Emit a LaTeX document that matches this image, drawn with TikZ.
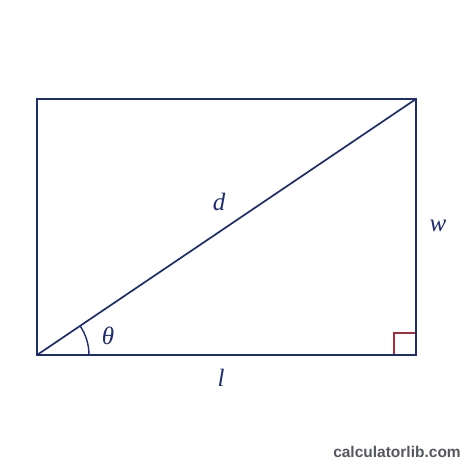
\documentclass[tikz,border=0pt]{standalone}
\usepackage{fontspec}
\setmainfont{Liberation Serif}
\newfontfamily\markfont{Liberation Sans}
\usepackage{tikz}
\usetikzlibrary{positioning}
\usepackage{xcolor}
\definecolor{rcnavy}{RGB}{30,45,110}
\definecolor{rcred}{RGB}{165,45,60}
\definecolor{rcgray}{RGB}{85,88,95}
\tikzstyle{edge} = [line width=1.7pt, color=rcnavy]
\tikzstyle{varlabel} = [font=\fontsize{25}{30}\selectfont\itshape, text=rcnavy, inner sep=0pt]
\tikzstyle{rightmark} = [line width=1.2pt, color=rcred]

\begin{document}
\begin{tikzpicture}[x=1pt, y=-1pt]
\path[use as bounding box, fill=white] (0,0) rectangle (474,474);
% Rectangle corners
\coordinate (bl) at (37,355);
\coordinate (br) at (416,355);
\coordinate (tr) at (416,99);
\coordinate (tl) at (37,99);

% Right angle mark
\draw[rightmark] (br) ++(-22,0) -- ++(0,-22) -- ++(22,0);

% Sides and diagonal
\draw[edge] (bl) -- (br) -- (tr) -- (tl) -- cycle;
\draw[edge] (bl) -- (tr);

% Angle arc
\draw[line width=1.4pt, rcnavy] (89,355) arc[start angle=0, end angle=-34, radius=52];

% Labels
\node (dlab) [varlabel] at (219,202) {d};
\node (wlab) [varlabel] at (438,226) {w};
\node (llab) [varlabel] at (221,378) {l};
\node (thlab) [varlabel] at (108,336) {θ};

% Watermark
\node (site) [font=\markfont\bfseries\fontsize{15.5}{18}\selectfont, text=rcgray, inner sep=0pt] at (397,452) {calculatorlib.com};
\end{tikzpicture}
\end{document}
